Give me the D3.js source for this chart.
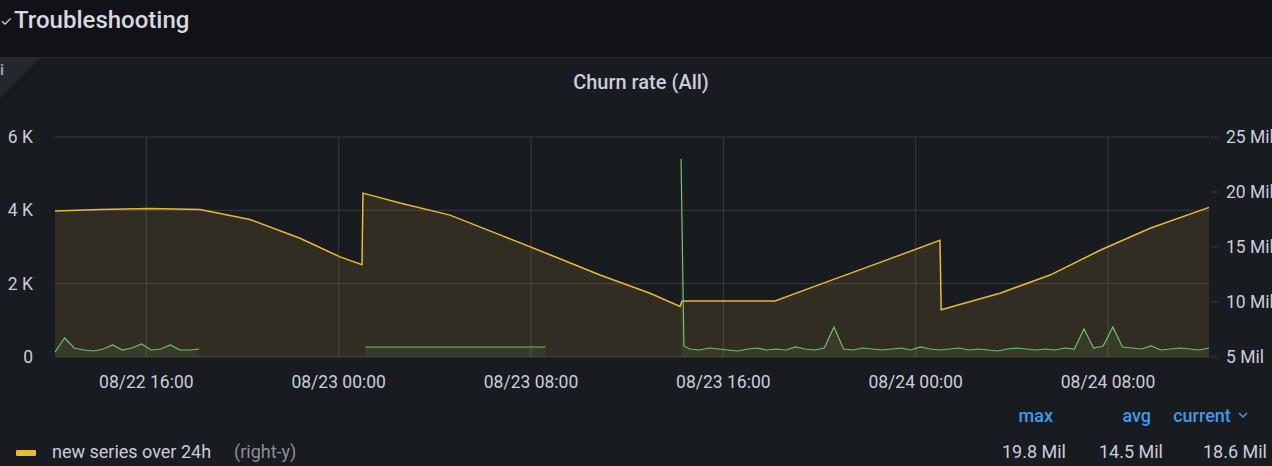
<!DOCTYPE html>
<html><head><meta charset="utf-8">
<script src="https://cdn.jsdelivr.net/npm/d3@7"></script>
<style>
body{margin:0;background:#111217;font-family:Roboto,Inter,"Noto Sans",sans-serif;}
svg{display:block}
</style></head>
<body><svg id="c" width="1272" height="466"></svg>
<script>
// time window: 48h starting 08/22 12:12
var startTime = new Date(2021, 7, 22, 12, 12);
var xTicks = ["08/22 16:00", "08/23 00:00", "08/23 08:00", "08/23 16:00", "08/24 00:00", "08/24 08:00"];
var leftTicks = [0, 2000, 4000, 6000];
var rightTicks = [5, 10, 15, 20, 25];

// new series over 24h (right-y, Mil): [hours from start, value]
var newSeries = [[0,18.27],[1.87,18.4],[3.95,18.5],[6.03,18.4],[8.11,17.5],[10.19,15.8],[11.86,14.1],[12.77,13.4],
  [12.81,19.9],[14.35,19.0],[16.43,17.9],[18.51,16.1],[20.59,14.3],[22.67,12.45],[24.75,10.8],[26.0,9.6],
  [26.08,10.1],[29.95,10.1],[31.82,11.6],[34.32,13.6],[36.81,15.6],[36.86,9.3],[39.3,10.8],[41.39,12.45],
  [43.47,14.7],[45.55,16.7],[48,18.6]];

// churn (left-y): three segments, sampled every 0.4h
var churnA = [136,518,245,191,164,218,327,191,245,355,191,218,327,191,191,218];
var churnAStart = 0;
var churnB = [[12.9,273],[20.4,273]];
var churnCHead = [[26.04,5400],[26.16,300]];
var churnC = [218,191,245,218,191,164,218,245,191,218,191,273,218,191,245,820,218,191,245,218,191,218,245,191,
  273,218,191,218,245,191,218,191,164,218,245,218,191,218,191,245,218,770,245,300,820,273,245,218,300,191,218,245,218,191,245];
var churnCStart = 26.4;
var step = 0.4;

var legendHead = ["max", "avg", "current"];
var legendVals = ["19.8 Mil", "14.5 Mil", "18.6 Mil"];

function t(h) { return new Date(startTime.getTime() + h * 3600e3); }

var svg = d3.select("#c");
svg.append("rect").attr("width", 1272).attr("height", 466).attr("fill", "#111217");
svg.append("rect").attr("x", 0).attr("y", 57).attr("width", 1272).attr("height", 409).attr("fill", "#181b1f");
svg.append("line").attr("x1", 0).attr("x2", 1272).attr("y1", 57.5).attr("y2", 57.5).attr("stroke", "#2a2c31");
svg.append("path").attr("d", "M0,58L40,58L0,98Z").attr("fill", "#24272c");
svg.append("text").attr("x", 0).attr("y", 75).attr("fill", "#9fa1a8").attr("font-size", 15).attr("font-weight", 700).text("i");

svg.append("text").attr("x", 0).attr("y", 26).attr("fill", "#d8d9e0").attr("font-size", 14).text("\u2713");
svg.append("text").attr("x", 14).attr("y", 28).attr("fill", "#d8d9e0").attr("font-size", 24).attr("font-weight", 500).text("Troubleshooting");
svg.append("text").attr("x", 641).attr("y", 89).attr("text-anchor", "middle").attr("fill", "#ccccdc").attr("font-size", 20).attr("font-weight", 500).text("Churn rate (All)");

var x = d3.scaleTime().domain([t(0), t(48)]).range([55, 1209]);
var yL = d3.scaleLinear().domain([0, 6000]).range([357, 137]);
var yR = d3.scaleLinear().domain([5, 25]).range([357, 137]);

var fmt = d3.timeFormat("%m/%d %H:%M");
var tickDates = xTicks.map(function (s) {
  var p = s.split(/[\/ :]/);
  return new Date(2021, +p[0] - 1, +p[1], +p[2], +p[3]);
});

var g = svg.append("g");
g.selectAll(".vg").data(tickDates).enter().append("line")
  .attr("x1", d => x(d)).attr("x2", d => x(d)).attr("y1", 137).attr("y2", 357)
  .attr("stroke", "#3a3b40");
g.selectAll(".hg").data(leftTicks).enter().append("line")
  .attr("x1", 55).attr("x2", 1209).attr("y1", d => yL(d)).attr("y2", d => yL(d))
  .attr("stroke", "#3a3b40");

g.selectAll(".xl").data(tickDates).enter().append("text")
  .attr("x", d => x(d)).attr("y", 388).attr("text-anchor", "middle")
  .attr("fill", "#ccccdc").attr("font-size", 17.5).text(d => fmt(d));
g.selectAll(".yl").data(leftTicks).enter().append("text")
  .attr("x", 33).attr("y", d => yL(d) + 6).attr("text-anchor", "end")
  .attr("fill", "#ccccdc").attr("font-size", 17.5).text(d => d ? d3.format("d")(d / 1000) + " K" : "0");
g.selectAll(".yr").data(rightTicks).enter().append("text")
  .attr("x", 1226).attr("y", d => yR(d) + 6)
  .attr("fill", "#ccccdc").attr("font-size", 17.5).text(d => d + " Mil");
g.selectAll(".yrt").data(rightTicks).enter().append("line")
  .attr("x1", 1211).attr("x2", 1218).attr("y1", d => yR(d)).attr("y2", d => yR(d))
  .attr("stroke", "#3a3b40");

// orange area
var area = d3.area().x(d => x(t(d[0]))).y0(357).y1(d => yR(d[1]));
var line = d3.line().x(d => x(t(d[0]))).y(d => yR(d[1]));
g.append("path").datum(newSeries).attr("d", area).attr("fill", "rgba(234,184,57,0.12)");
g.append("path").datum(newSeries).attr("d", line).attr("fill", "none").attr("stroke", "#eab839").attr("stroke-width", 1.5);

// green segments
var segA = churnA.map((v, i) => [churnAStart + i * step, v]);
var segC = churnCHead.concat(churnC.map((v, i) => [churnCStart + i * step, v]));
var lineL = d3.line().x(d => x(t(d[0]))).y(d => yL(d[1]));
var areaL = d3.area().x(d => x(t(d[0]))).y0(357).y1(d => yL(d[1]));
[segA, churnB, segC].forEach(function (s) {
  g.append("path").datum(s).attr("d", areaL).attr("fill", "rgba(115,191,105,0.1)");
  g.append("path").datum(s).attr("d", lineL).attr("fill", "none").attr("stroke", "#73bf69").attr("stroke-width", 1.2);
});

// legend
var hx = [1053, 1151, 1202];
svg.selectAll(".lh").data(legendHead).enter().append("text")
  .attr("x", (d, i) => hx[i]).attr("y", 422).attr("text-anchor", (d, i) => i == 2 ? "middle" : "end")
  .attr("fill", "#3d9be9").attr("font-size", 18).attr("font-weight", 500).text(d => d);
svg.append("path").attr("d", "M1239,413l4,4l4,-4").attr("fill", "none").attr("stroke", "#3d9be9").attr("stroke-width", 1.5);
var vx = [1066, 1163, 1267];
svg.selectAll(".lv").data(legendVals).enter().append("text")
  .attr("x", (d, i) => vx[i]).attr("y", 458).attr("text-anchor", "end")
  .attr("fill", "#ccccdc").attr("font-size", 18).text(d => d);
svg.append("rect").attr("x", 16).attr("y", 450).attr("width", 20).attr("height", 6).attr("rx", 1).attr("fill", "#eab839");
svg.append("text").attr("x", 52).attr("y", 458).attr("fill", "#ccccdc").attr("font-size", 18).text("new series over 24h");
svg.append("text").attr("x", 234).attr("y", 458).attr("fill", "#8e8e9a").attr("font-size", 18).text("(right-y)");
</script></body></html>
